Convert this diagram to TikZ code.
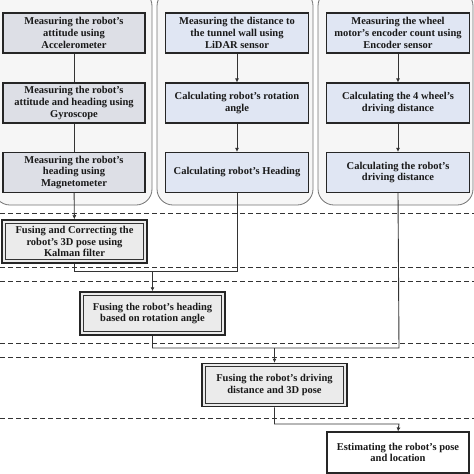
\documentclass[tikz,border=0pt]{standalone}
\usepackage{fontspec}
\setmainfont{Liberation Serif}
\usetikzlibrary{arrows.meta,calc}
\definecolor{lfill}{RGB}{221,223,230}
\definecolor{mfill}{RGB}{224,230,243}
\definecolor{ffill}{RGB}{235,235,235}
\definecolor{pfill}{RGB}{246,246,246}
\begin{document}
\begin{tikzpicture}[x=1pt,y=-1pt,
  every node/.style={font=\bfseries\fontsize{10.5}{11.8}\selectfont, align=center, inner sep=0pt, text=black!90},
  panel/.style={draw=black!55, line width=0.8pt, rounded corners=16pt, fill=pfill},
  lbox/.style={draw=black!85, line width=1.1pt, fill=lfill, minimum width=142pt, minimum height=40pt},
  mbox/.style={draw=black!85, line width=1.1pt, fill=mfill, minimum width=143pt, minimum height=40pt},
  fusebox/.style={draw=black!85, line width=1.5pt, fill=ffill, minimum width=145pt, minimum height=43pt,
    path picture={\draw[line width=0.7pt, black!80] ([shift={(3.2pt,3.2pt)}]path picture bounding box.south west) rectangle ([shift={(-3.2pt,-3.2pt)}]path picture bounding box.north east);}},
  endbox/.style={draw=black!85, line width=1.1pt, fill=white, minimum width=142pt, minimum height=41pt},
  sep/.style={draw=black!80, line width=1pt, dash pattern=on 5pt off 3pt},
  conn/.style={draw=black!80, line width=0.9pt},
  arr/.style={conn, -{Latex[length=4pt,width=4pt]}}
]
\useasboundingbox (0,0) rectangle (474,474);
% panels
\draw[panel] (-6,-10) rectangle (152,205);
\draw[panel] (157,-10) rectangle (313,205);
\draw[panel] (318,-10) rectangle (473,205);
% separators
\foreach \yy in {213,267,281,343,357,418} \draw[sep] (0,\yy) -- (474,\yy);
% left column
\node[lbox] (l1) at (74,33) {Measuring the robot’s\\attitude using\\Accelerometer};
\node[lbox] (l2) at (74,103) {Measuring the robot’s\\attitude and heading using\\Gyroscope};
\node[lbox] (l3) at (74,172.5) {Measuring the robot’s\\heading using\\Magnetometer};
% middle column
\node[mbox] (m1) at (237,33) {Measuring the distance to\\the tunnel wall using\\LiDAR sensor};
\node[mbox] (m2) at (237,103) {Calculating robot’s rotation\\angle};
\node[mbox] (m3) at (237,172.5) {Calculating robot’s Heading};
% right column
\node[mbox] (r1) at (398,33) {Measuring the wheel\\motor’s encoder count using\\Encoder sensor};
\node[mbox] (r2) at (398,103) {Calculating the 4 wheel’s\\driving distance};
\node[mbox] (r3) at (398,172.5) {Calculating the robot’s\\driving distance};
% fusion boxes
\node[fusebox] (kal) at (74.5,241.5) {Fusing and Correcting the\\robot’s 3D pose using\\Kalman filter};
\node[fusebox] (hf) at (152.5,313.5) {Fusing the robot’s heading\\based on rotation angle};
\node[fusebox] (df) at (274.5,385) {Fusing the robot’s driving\\distance and 3D pose};
\node[endbox] (est) at (398,452.5) {Estimating the robot’s pose\\and location};
% junctions
\coordinate (j1) at (237,271);
\coordinate (j2) at (399,348);
\coordinate (j3) at (399,424);
% connectors
\draw[conn] (l1) -- (l2);
\draw[conn] (l2) -- (l3);
\draw[arr] (l3) -- (kal);
\draw[arr] (m1) -- (m2);
\draw[arr] (m2) -- (m3);
\draw[arr] (r1) -- (r2);
\draw[arr] (r2) -- (r3);
\draw[conn] (kal.south -| l3.south) |- (j1) -- (m3.south);
\draw[arr] (hf.north |- j1) -- (hf.north);
\draw[conn] (hf.south) |- (j2) -- (r3.south);
\draw[arr] (df.north |- j2) -- (df.north);
\draw[arr] (df.south) |- (j3) -- (est.north);
\end{tikzpicture}
\end{document}
